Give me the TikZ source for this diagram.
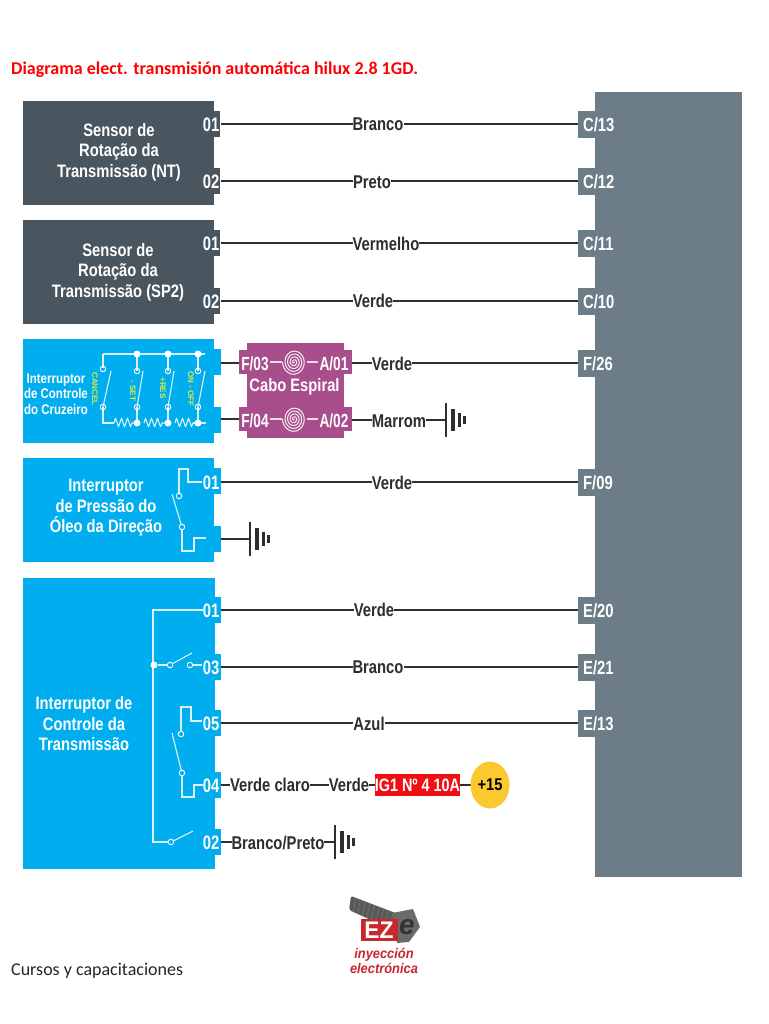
\documentclass[tikz,border=0pt]{standalone}
\usepackage{fontspec}
\usetikzlibrary{shapes.geometric,calc}
\setmainfont{Liberation Sans}
\newfontfamily\calibri{Carlito}
\definecolor{panel}{HTML}{6C7D87}
\definecolor{dark}{HTML}{4A565F}
\definecolor{sky}{HTML}{00AEEF}
\definecolor{spiral}{HTML}{A94E8C}
\definecolor{wire}{HTML}{2E2E2E}
\definecolor{fuse}{HTML}{F20F14}
\definecolor{plus}{HTML}{FBC82D}
\definecolor{swyellow}{HTML}{D8EC3C}
\definecolor{ezred}{HTML}{C8272B}
\tikzset{
  wirel/.style={line width=2.6pt, wire},
  inner/.style={line width=1.1pt, white!85!sky},
  lab/.style={font=\bfseries\fontsize{18.5}{18.5}\selectfont, text=wire, inner sep=0pt, fill=white, xscale=0.8},
  pin/.style={font=\bfseries\fontsize{19.5}{19.5}\selectfont, text=white, inner sep=0pt, xscale=0.76},
  cabl/.style={font=\bfseries\fontsize{19}{19}\selectfont, text=white, inner sep=0pt, xscale=0.72},
  ecu/.style={font=\bfseries\fontsize{19}{19}\selectfont, text=white, inner sep=0pt, xscale=0.78, anchor=west},
  box/.style={font=\bfseries\fontsize{18}{20.5}\selectfont, text=white, align=center, inner sep=0pt, xscale=0.82},
  term/.style={circle, draw=white, line width=0.9pt, inner sep=0pt, minimum size=5.5pt},
  dot/.style={circle, fill=white, inner sep=0pt, minimum size=7pt},
  ylab/.style={font=\bfseries\fontsize{8}{8}\selectfont, text=swyellow, inner sep=0pt, rotate=-90}
}
% ground symbol, coordinate #1 is the end of the wire
\newcommand{\gnd}[1]{
  \draw[line width=2.6pt, wire] (#1) ++(0,-17) -- ++(0,34);
  \draw[line width=3.6pt, wire] (#1) ++(7,-11) -- ++(0,22);
  \draw[line width=3pt, wire] (#1) ++(13,-7) -- ++(0,14);
  \draw[line width=3pt, wire] (#1) ++(18,-4) -- ++(0,8);
}
\newcommand{\spiralsym}[1]{
  \draw[white!90!spiral, line width=1pt, shift={(#1)}]
    plot[domain=0:1620, samples=110, smooth] ({11.5*(\x/1620)*cos(\x)},{13*(\x/1620)*sin(\x)});
}
\begin{document}
\begin{tikzpicture}[x=1pt,y=-1pt]
\useasboundingbox (0,0) rectangle (768,1024);
\fill[white] (0,0) rectangle (768,1024);

\node[anchor=west, inner sep=0pt, text=red] (title) at (11,70) {\calibri\bfseries\fontsize{18}{18}\selectfont Diagrama elect. transmisión automática hilux 2.8 1GD.};
\node[anchor=west, inner sep=0pt, text=black!85] (cursos) at (11,971) {\calibri\fontsize{18}{18}\selectfont Cursos y capacitaciones};

% ECU
\fill[panel] (595,92) rectangle (742,877);
\foreach \y in {124,181,243,301,363,482,610,667,723}
  \fill[panel] (578,\y-13) rectangle (596,\y+14);

% dark boxes
\fill[dark] (23,101) rectangle (214,205);
\fill[dark] (23,220) rectangle (214,324);
\foreach \y in {124,181,243,301}
  \fill[dark] (205,\y-13) rectangle (220,\y+13);

% blue boxes
\fill[sky] (23,339) rectangle (214,443);
\fill[sky] (23,458) rectangle (214,562);
\fill[sky] (23,578) rectangle (215,869);
\foreach \y in {362,420,481,539,610,667,723,785,842}
  \fill[sky] (205,\y-13) rectangle (221,\y+13);

% spiral cable
\fill[spiral] (247,343) rectangle (344,438);
\foreach \y in {362,419}{
  \fill[spiral] (239,\y-12) rectangle (352,\y+12);
}

% wires
\coordinate (g1) at (446,420);
\coordinate (g2) at (250,539);
\coordinate (g3) at (335,842);
\draw[wirel] (221,124) -- (578,124);
\draw[wirel] (221,181) -- (578,181);
\draw[wirel] (221,243) -- (578,243);
\draw[wirel] (221,301) -- (578,301);
\draw[wirel] (221,363) -- (239,363);
\draw[wirel] (221,419) -- (239,419);
\draw[wirel] (352,363) -- (578,363);
\draw[wirel] (352,420) -- (g1);
\draw[wirel] (221,482) -- (578,482);
\draw[wirel] (221,539) -- (g2);
\draw[wirel] (221,610) -- (578,610);
\draw[wirel] (221,667) -- (578,667);
\draw[wirel] (221,723) -- (578,723);
\draw[wirel] (221,785) -- (471,785);
\draw[wirel] (221,842) -- (g3);
\gnd{g1}
\gnd{g2}
\gnd{g3}

% ECU labels
\node[ecu] (c13) at (583,125) {C/13};
\node[ecu] (c12) at (583,182) {C/12};
\node[ecu] (c11) at (583,244) {C/11};
\node[ecu] (c10) at (583,302) {C/10};
\node[ecu] (f26) at (583,364) {F/26};
\node[ecu] (f09) at (583,483) {F/09};
\node[ecu] (e20) at (583,611) {E/20};
\node[ecu] (e21) at (583,668) {E/21};
\node[ecu] (e13) at (583,724) {E/13};

% wire labels
\node[lab] (w1) at (378,124) {Branco};
\node[lab] (w2) at (372,182) {Preto};
\node[lab] (w3) at (386,244) {Vermelho};
\node[lab] (w4) at (373,301) {Verde};
\node[lab] (w5) at (392,364) {Verde};
\node[lab] (w6) at (399,421) {Marrom};
\node[lab] (w7) at (392,483) {Verde};
\node[lab] (w8) at (374,610) {Verde};
\node[lab] (w9) at (378,667) {Branco};
\node[lab] (w10) at (369,724) {Azul};
\node[lab] (w11) at (270,785) {Verde claro};
\node[lab] (w12) at (349,785) {Verde};
\node[lab] (w13) at (278,843) {Branco/Preto};

% fuse and supply
\node[fill=fuse, text=white, inner sep=0pt, minimum width=85pt, minimum height=22pt, font=\bfseries\fontsize{18}{18}\selectfont] (fuse) at (417.5,785) {\scalebox{0.8}[1]{IG1 Nº 4 10A}};
\node[fill=plus, text=black, ellipse, inner sep=0pt, minimum width=39pt, minimum height=47pt, font=\bfseries\fontsize{17}{17}\selectfont] (vcc) at (490,785) {\scalebox{0.86}[1]{+15}};

% box texts
\node[box] (nt) at (119,152) {Sensor de\\Rotação da\\Transmissão (NT)};
\node[box] (sp2) at (118,272) {Sensor de\\Rotação da\\Transmissão (SP2)};
\node[box, font=\bfseries\fontsize{14}{15.5}\selectfont] (cruz) at (56,394) {Interruptor\\de Controle\\do Cruzeiro};
\node[box, font=\bfseries\fontsize{18}{20.5}\selectfont] (oleo) at (106,508) {Interruptor\\de Pressão do\\Óleo da Direção};
\node[box, font=\bfseries\fontsize{18}{20.5}\selectfont] (trans) at (84,724) {Interruptor de\\Controle da\\Transmissão};

% pin numbers
\foreach \n/\y/\t in {a/125/01, b/182/02, c/244/01, d/302/02, e/483/01, f/611/01, g/668/03, h/724/05, i/786/04, j/843/02}
  \node[pin] (pin\n) at (211,\y) {\t};

% spiral cable texts
\node[cabl] (f03) at (255,364) {F/03};
\node[cabl] (f04) at (255,421) {F/04};
\node[cabl] (a01) at (334,364) {A/01};
\node[cabl] (a02) at (334,421) {A/02};
\node[ecu, anchor=center, font=\bfseries\fontsize{18}{18}\selectfont, xscale=1.05] (cabo) at (294.5,387) {Cabo Espiral};
\coordinate (s1) at (294,362);
\coordinate (s2) at (294,419);
\spiralsym{s1}
\spiralsym{s2}
\draw[white!80!spiral, line width=1.2pt] (f03) ++(15,-2) -- ++(12,0);
\draw[white!80!spiral, line width=1.2pt] (a01) ++(-27,-2) -- ++(11,0);
\draw[white!80!spiral, line width=1.2pt] (f04) ++(15,-2) -- ++(12,0);
\draw[white!80!spiral, line width=1.2pt] (a02) ++(-27,-2) -- ++(11,0);

% cruise control switches
\draw[inner] (103,354) -- (205,354);
\draw[inner] (103,354) -- (103,368);
\draw[inner] (103,407) -- (103,423) -- (114,423);
\draw[inner] (193,423) -- (206,423);
\foreach \x in {137,168,198}{
  \draw[inner] (\x,354) -- (\x,371);
  \draw[inner] (\x,407) -- (\x,423);
  \node[dot] at (\x,354) {};
  \node[dot] at (\x,423) {};
}
\foreach \xa/\xb in {114/137,144/168,175/198}
  \draw[inner, line join=bevel] (\xa,423) -- ++(1.5,-5) -- ++(3,9) -- ++(3,-9) -- ++(3,9) -- ++(3,-9) -- ++(3,9) -- ++(1.5,-4) -- (\xb,423);
\foreach \x/\ya/\xe in {103/369/111,137/371/143,168/371/174,198/371/205}{
  \node[term] at (\x,\ya) {};
  \node[term] at (\x,407) {};
  \draw[inner] (\x,407) -- (\xe,371);
}
\node[ylab] at (95,389) {CANCEL};
\node[ylab] at (133,391) {- SET};
\node[ylab] at (163,388) {+RES};
\node[ylab] at (191,389) {ON - OFF};

% oil pressure switch
\draw[inner] (202,482) -- (188,482) -- (188,469) -- (179,469) -- (179,493);
\node[term] (o1) at (179,496) {};
\node[term] (o2) at (182,527) {};
\draw[inner] (172,494) -- (o2);
\draw[inner] (o2) -- (182,551) -- (194,551) -- (194,538) -- (206,538);

% transmission switches
\draw[inner] (203,610) -- (153,610) -- (153,842) -- (169,842);
\node[dot] (t0) at (154,665) {};
\node[term] (t1) at (170,665) {};
\node[term] (t2) at (190,665) {};
\draw[inner] (t0) -- (t1);
\draw[inner] (t1) -- (192,653);
\draw[inner] (t2) -- (202,665);
\draw[inner] (202,721) -- (191,721) -- (191,707) -- (181,707) -- (181,731);
\node[term] (t3) at (181,734) {};
\node[term] (t4) at (182,773) {};
\draw[inner] (172,733) -- (t4);
\draw[inner] (t4) -- (182,797) -- (194,797) -- (194,785) -- (203,785);
\node[term] (t5) at (171,842) {};
\draw[inner] (t5) -- (193,831);

% logo
\fill[black!65, rounded corners=2pt] (351,896) -- (398,914) -- (393,930) -- (349,910) -- cycle;
\foreach \t in {0.1,0.2,...,0.9}
  \draw[black!55, line width=0.7pt] ($(351,896)!\t!(398,914)$) -- ($(349,910)!\t!(393,930)$);
\fill[black!58] (392,913) -- (413,909) -- (420,927) -- (409,942) -- (397,943) -- cycle;
\fill[ezred] (361,919) rectangle (398,941);
\node[inner sep=0pt, text=white, font=\bfseries\fontsize{24}{24}\selectfont, xscale=0.95] (ez) at (379,930) {EZ};
\node[inner sep=0pt, text=black!80, font=\bfseries\itshape\fontsize{28}{28}\selectfont] (ezb) at (407,927) {e};
\node[inner sep=0pt, align=center, text=ezred, font=\bfseries\itshape\fontsize{14}{12}\selectfont, xscale=0.92] (iny) at (384,961) {inyección\\electrónica};
\end{tikzpicture}
\end{document}
